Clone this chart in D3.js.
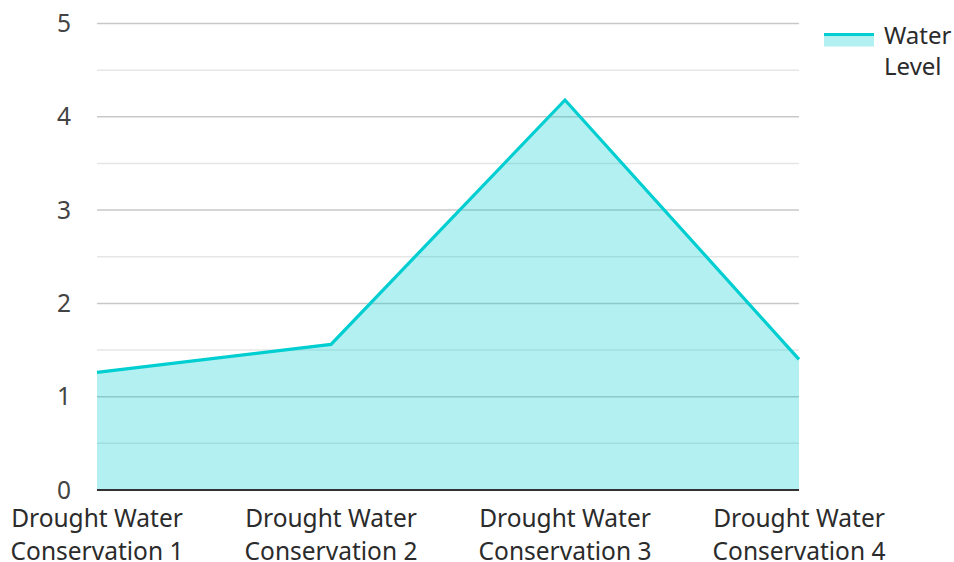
<!DOCTYPE html>
<html>
<head>
<meta charset="utf-8">
<script src="https://cdn.jsdelivr.net/npm/d3@7"></script>
<style>
  html, body { margin: 0; padding: 0; background: #fff; }
  svg { display: block; font-family: "Noto Sans", "Open Sans", sans-serif; }
</style>
</head>
<body>
<svg id="chart" width="954" height="562"></svg>
<script>
// Water level per conservation scenario
const categories = [
  ["Drought Water", "Conservation 1"],
  ["Drought Water", "Conservation 2"],
  ["Drought Water", "Conservation 3"],
  ["Drought Water", "Conservation 4"]
];
const waterLevel = [1.26, 1.56, 4.18, 1.40];
const yTicks = [0, 1, 2, 3, 4, 5];
const yMinorTicks = [0.5, 1.5, 2.5, 3.5, 4.5];
const seriesName = ["Water", "Level"];

const color = "#00ced1";
const svg = d3.select("#chart");

const x = d3.scalePoint()
  .domain(d3.range(categories.length))
  .range([97, 799]);

const y = d3.scaleLinear()
  .domain([0, 5])
  .range([490, 23.5]);

// gridlines
const grid = svg.append("g");
grid.selectAll("line.minor")
  .data(yMinorTicks)
  .join("line")
  .attr("class", "minor")
  .attr("x1", x.range()[0]).attr("x2", x.range()[1])
  .attr("y1", d => y(d)).attr("y2", d => y(d))
  .attr("stroke", "#e6e6e6").attr("stroke-width", 1.5);
grid.selectAll("line.major")
  .data(yTicks.filter(d => d > 0))
  .join("line")
  .attr("class", "major")
  .attr("x1", x.range()[0]).attr("x2", x.range()[1])
  .attr("y1", d => y(d)).attr("y2", d => y(d))
  .attr("stroke", "#c8c8c8").attr("stroke-width", 1.5);

// area + line
const pts = waterLevel.map((v, i) => [i, v]);
svg.append("path")
  .datum(pts)
  .attr("fill", color)
  .attr("fill-opacity", 0.3)
  .attr("d", d3.area().x(d => x(d[0])).y0(y(0)).y1(d => y(d[1])));
svg.append("path")
  .datum(pts)
  .attr("fill", "none")
  .attr("stroke", color)
  .attr("stroke-width", 3.2)
  .attr("stroke-linejoin", "miter")
  .attr("d", d3.line().x(d => x(d[0])).y(d => y(d[1])));

// baseline axis
svg.append("line")
  .attr("x1", x.range()[0]).attr("x2", x.range()[1])
  .attr("y1", y(0)).attr("y2", y(0))
  .attr("stroke", "#333").attr("stroke-width", 2);

// y labels
svg.append("g").selectAll("text")
  .data(yTicks)
  .join("text")
  .attr("x", 71)
  .attr("y", d => y(d))
  .attr("dy", "0.35em")
  .attr("text-anchor", "end")
  .attr("font-size", 24.5)
  .attr("fill", "#444")
  .text(d => d);

// x labels
const xl = svg.append("g").selectAll("text")
  .data(categories)
  .join("text")
  .attr("text-anchor", "middle")
  .attr("font-size", 24.5)
  .attr("fill", "#2b2b2b");
xl.selectAll("tspan")
  .data((d, i) => d.map((t, j) => ({ t, j, i })))
  .join("tspan")
  .attr("x", d => x(d.i))
  .attr("y", d => 527 + d.j * 33)
  .text(d => d.t);

// legend
const lg = svg.append("g");
lg.append("rect")
  .attr("x", 824).attr("y", 34.5).attr("width", 50).attr("height", 12)
  .attr("fill", color).attr("fill-opacity", 0.3);
lg.append("line")
  .attr("x1", 824).attr("x2", 874).attr("y1", 34.5).attr("y2", 34.5)
  .attr("stroke", color).attr("stroke-width", 3);
lg.append("text")
  .attr("font-size", 24)
  .attr("fill", "#2b2b2b")
  .selectAll("tspan")
  .data(seriesName)
  .join("tspan")
  .attr("x", 884)
  .attr("y", (d, i) => 44 + i * 31)
  .text(d => d);
</script>
</body>
</html>
